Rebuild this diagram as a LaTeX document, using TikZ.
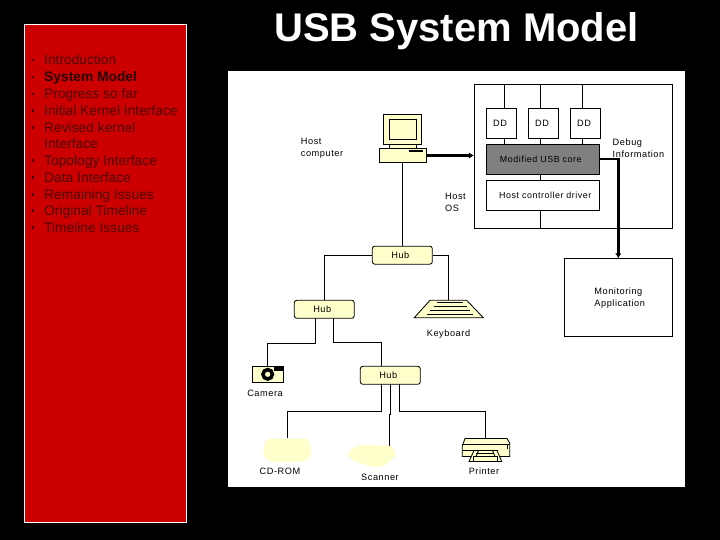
\documentclass[tikz,border=0pt]{standalone}
\usepackage{fontspec}
\usetikzlibrary{arrows.meta}
\setmainfont{Liberation Sans}
\newfontfamily\labelfont[LetterSpace=6]{Liberation Sans}
\definecolor{panelred}{HTML}{CC0000}
\definecolor{outlinetext}{HTML}{4C0000}
\definecolor{iconyellow}{HTML}{FFFFCC}
\definecolor{coregray}{HTML}{808080}
\newcommand{\myfont}{\labelfont\fontsize{9.2}{12}\selectfont}
\newcommand{\corefont}{\labelfont\fontsize{8.9}{12}\selectfont}
\newcommand{\listfont}{\fontsize{13.8}{17}\selectfont}
\newcommand{\hubtext}{Hub\kern4pt}
\newcommand{\ddtext}{DD\kern2.5pt}
\tikzset{
	plainbox/.style={draw=black,fill=white,line width=0.85pt,inner sep=0pt},
	hubbox/.style={draw=black,fill=iconyellow,line width=0.85pt,rounded corners=2.5pt,
		minimum width=60pt,minimum height=18pt,inner sep=0pt,font=\myfont},
	ddbox/.style={plainbox,minimum width=30pt,minimum height=30pt,font=\myfont},
	tag/.style={inner sep=0pt,font=\myfont,align=left},
	item/.style={anchor=base west,inner sep=0pt,text=outlinetext,font=\listfont},
	dot/.style={rectangle,fill=outlinetext,inner sep=0pt,minimum size=2.8pt},
	wire/.style={line width=0.85pt},
	fatwire/.style={line width=2.4pt},
	icon/.style={draw=black,fill=iconyellow,line width=0.85pt}
}
\begin{document}
\begin{tikzpicture}[x=1pt,y=-1pt]

\useasboundingbox (0,0) rectangle (720,540);
\fill[black] (0,0) rectangle (720,540);

% outline panel
\fill[panelred,draw=white,line width=0.8pt] (24.5,24.5) rectangle (186.5,522);
\foreach \name/\ypos in {Introduction/65,Progress so far/99,Initial Kernel Interface/115.8,Revised kernel/132.3,Topology Interface/165.8,Data Interface/182.7,Remaining Issues/199.3,Original Timeline/215.8,Timeline Issues/232.7}{
	\node[dot] at (33,\ypos-5) {};
	\node[item] at (44,\ypos) {\name};
}
\node[dot] at (33,77) {};
\node[item,text=black!85!red] at (44,82) {\textbf{System Model}};
\node[item] at (44,149) {Interface};

% title
\node[text=white,inner sep=0pt,font=\fontsize{40}{42}\selectfont\bfseries,anchor=base] (title) at (456.5,41.5) {USB System Model};

% diagram sheet
\fill[white] (228,71) rectangle (685,487);

% host side
\node[plainbox,minimum width=198pt,minimum height=144pt] (hostos) at (573.3,156.3) {};
\node[ddbox] (ddone) at (501.3,123.3) {\ddtext};
\node[ddbox] (ddtwo) at (543.3,123.3) {\ddtext};
\node[ddbox] (ddthree) at (585.3,123.3) {\ddtext};
\node[plainbox,fill=coregray,minimum width=113pt,minimum height=30pt,font=\corefont] (core) at (542.8,159.3) {Modified USB core\kern4pt};
\node[plainbox,minimum width=113pt,minimum height=30pt,font=\corefont] (driver) at (542.8,195.3) {\kern5pt Host controller driver};
\node[plainbox,minimum width=108pt,minimum height=78pt] (monitor) at (618.3,297.3) {};
\node[tag] (monitorlabel) at (619.7,298.5) {Monitoring\\Application};

\coordinate (busa) at (504.3,84.3);
\coordinate (busb) at (540.3,84.3);
\coordinate (busc) at (582.3,84.3);
\coordinate (busd) at (540.3,228.3);

\draw[wire] (busa) -- (busa |- ddone.north);
\draw[wire] (busb) -- (busb |- ddtwo.north);
\draw[wire] (busc) -- (busc |- ddthree.north);
\draw[wire] (busa |- ddone.south) -- (busa |- core.north);
\draw[wire] (busb |- ddtwo.south) -- (busb |- core.north);
\draw[wire] (busc |- ddthree.south) -- (busc |- core.north);
\draw[wire] (busb |- core.south) -- (busb |- driver.north);
\draw[wire] (busb |- driver.south) -- (busd);

\node[tag] (debug) at (638.5,148) {Debug\\Information};
\node[tag] (hostlabel) at (322,148.5) {Host\\computer};
\node[tag] (oslabel) at (455.5,202.2) {Host\\OS};

% host computer
\node[icon,minimum width=38.5pt,minimum height=30pt,inner sep=0pt] (screen) at (402.5,129.2) {};
\node[draw=black,line width=0.85pt,minimum width=27pt,minimum height=20pt,inner sep=0pt] at (403.2,129.3) {};
\node[icon,minimum width=27pt,minimum height=4.5pt,inner sep=0pt] (neck) at (403.2,146.2) {};
\node[icon,minimum width=47.5pt,minimum height=14pt,inner sep=0pt] (base) at (403,155.3) {};
\fill[black] (409,150) rectangle (423,151.6);
\coordinate (baseout) at (426.7,155.5);

% monitor link
\coordinate (monitorin) at (618.3,258.3);
\draw[fatwire,-{Latex[length=5pt,width=6.5pt]}] (baseout) -- (hostos.west |- baseout);
\draw[fatwire,-{Latex[length=5pt,width=6.5pt]}] (core.east) -| (monitorin);

% hubs
\node[hubbox] (hubtop) at (402.3,255.2) {\hubtext};
\node[hubbox] (hubleft) at (324.3,309.3) {\hubtext};
\node[hubbox] (hublow) at (390.3,375.3) {\hubtext};

\coordinate (hubtopin) at (402.3,162.3);
\draw[wire] (hubtopin) -- (hubtopin |- hubtop.north);
\draw[wire] (hubtop.west) -| (hubleft.north);

% keyboard
\coordinate (keyboard) at (448.7,300.3);
\draw[icon] (430,300.3) -- (466.7,300.3) -- (483.3,317.7) -- (414.3,317.7) -- cycle;
\foreach \ya/\xa/\xb in {302.8/437/463,306.7/434/466.7,310.7/430/470,314.3/427/473}{
	\draw[wire] (\xa,\ya) -- (\xb,\ya);
}
\draw[wire] (hubtop.east) -| (keyboard);
\node[tag] (keylabel) at (448.5,333.7) {Keyboard};

% camera
\node[icon,minimum width=31.5pt,minimum height=16pt,inner sep=0pt] (camera) at (268,374.7) {};
\fill[black] (274.3,366.7) rectangle (283.7,370.8);
\draw[black,line width=3.6pt] (267.7,374.3) circle (4.7pt);
\coordinate (lefta) at (315.3,318.3);
\coordinate (leftb) at (333.3,318.3);
\coordinate (camerain) at (267.3,366.7);
\coordinate (lowin) at (381.7,366.3);
\draw[wire] (lefta) -- (315.3,343.3) -| (camerain);
\draw[wire] (leftb) -- (333.3,342.3) -| (lowin);
\node[tag] (camlabel) at (265,393.7) {Camera};

% cd-rom and scanner
\fill[iconyellow] (270,438.5) -- (306,438.5) .. controls (310,442) and (312,448) .. (311,454) .. controls (309,460) and (305,462) .. (296,462) -- (272,462) .. controls (265,460) and (263,455) .. (263.5,449) .. controls (264,443) and (266,440) .. (270,438.5) -- cycle;
\fill[iconyellow] (360,445) -- (390,445.5) .. controls (394,448) and (396,452) .. (396,456) -- (385,465) .. controls (378,468) and (372,467.5) .. (367,465) .. controls (358,463) and (350,460) .. (348,455) .. controls (348,450) and (354,447) .. (360,445) -- cycle;
\coordinate (cdrom) at (287.3,438.3);
\coordinate (scanner) at (389.3,445.7);
\node[tag] (cdlabel) at (280,471.5) {CD-ROM};
\node[tag] (scanlabel) at (380,477.5) {Scanner};

% printer
\draw[icon] (462.3,446) -- (465,438.5) -- (507,438.5) -- (509.7,443) -- (509.7,456.5) -- (462.3,456.5) -- cycle;
\draw[wire] (462.3,444) -- (509.7,444);
\draw[wire] (462.3,450) -- (498,450);
\fill[black] (506.5,445) rectangle (508.3,449);
\draw[icon] (469,461.5) -- (474,450.5) -- (478.5,450.5) -- (474,461.5) -- cycle;
\draw[icon] (501.7,461.5) -- (497,450.5) -- (492.5,450.5) -- (497,461.5) -- cycle;
\draw[icon] (473,456.5) -- (497,456.5) -- (497,461.5) -- (473,461.5) -- cycle;
\draw[wire] (476,453) -- (494,453);
\coordinate (printer) at (485.7,438.3);
\node[tag] (printlabel) at (484,471.5) {Printer};

\coordinate (lowa) at (381.7,384.3);
\coordinate (lowb) at (390.3,384.3);
\coordinate (lowc) at (399.3,384.3);
\draw[wire] (lowa) -- (381.7,411.3) -| (cdrom);
\draw[wire] (lowb) -- (390.3,414) -- (389.3,414) -- (scanner);
\draw[wire] (lowc) -- (399.3,411.3) -| (printer);

\end{tikzpicture}
\end{document}
